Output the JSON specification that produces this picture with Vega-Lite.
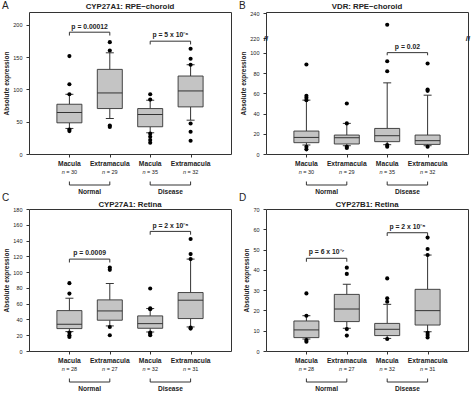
{
"$schema": "https://vega.github.io/schema/vega-lite/v6.json",
"padding": {"left": 1, "top": 0, "right": 2, "bottom": 0},
"columns": 2,
"spacing": {"row": 55, "column": 35},
"bounds": "flush",
"datasets": {
"groups": [{"from": "Normal Macula", "to": "Normal Extramacula", "label": "Normal"}, {"from": "Disease Macula", "to": "Disease Extramacula", "label": "Disease"}],
"boxA": [
{"cat": "Normal Macula", "sub": "Macula", "n": "= 30", "q1": 48.3, "med": 64.3, "q3": 77.1, "lo": 39.6, "hi": 92.5},
{"cat": "Normal Extramacula", "sub": "Extramacula", "n": "= 29", "q1": 70.4, "med": 94.6, "q3": 131.1, "lo": 55, "hi": 156.8},
{"cat": "Disease Macula", "sub": "Macula", "n": "= 35", "q1": 42.2, "med": 61.2, "q3": 70.4, "lo": 32.9, "hi": 83.3},
{"cat": "Disease Extramacula", "sub": "Extramacula", "n": "= 32", "q1": 73, "med": 97.7, "q3": 120.8, "lo": 52.4, "hi": 138.3}],
"outA": [
{"cat": "Normal Macula", "v": 151.7}, {"cat": "Normal Macula", "v": 108}, {"cat": "Normal Macula", "v": 92.5}, {"cat": "Normal Macula", "v": 38}, {"cat": "Normal Macula", "v": 35.5},
{"cat": "Normal Extramacula", "v": 173.3}, {"cat": "Normal Extramacula", "v": 160.4}, {"cat": "Normal Extramacula", "v": 44}, {"cat": "Normal Extramacula", "v": 42},
{"cat": "Disease Macula", "v": 92.5}, {"cat": "Disease Macula", "v": 84.3}, {"cat": "Disease Macula", "v": 31.5}, {"cat": "Disease Macula", "v": 26.7}, {"cat": "Disease Macula", "v": 21.6}, {"cat": "Disease Macula", "v": 17.5},
{"cat": "Disease Extramacula", "v": 163}, {"cat": "Disease Extramacula", "v": 147.6}, {"cat": "Disease Extramacula", "v": 138.3}, {"cat": "Disease Extramacula", "v": 47.3}, {"cat": "Disease Extramacula", "v": 34.4}, {"cat": "Disease Extramacula", "v": 20.6}],
"brA": [
{"from": "Normal Macula", "to": "Normal Extramacula", "y": 188.7, "y2": 183.5, "ty": 197.4, "label": "p = 0.00012"},
{"from": "Disease Macula", "to": "Disease Extramacula", "y": 174.8, "y2": 169.7, "ty": 184.6, "label": "p = 5 x 10⁻⁶"}],
"boxB": [
{"cat": "Normal Macula", "sub": "Macula", "n": "= 30", "q1": 11.2, "med": 16.4, "q3": 22.7, "lo": 8.9, "hi": 53.3},
{"cat": "Normal Extramacula", "sub": "Extramacula", "n": "= 29", "q1": 9.9, "med": 16.1, "q3": 18.75, "lo": 8.2, "hi": 30.3},
{"cat": "Disease Macula", "sub": "Macula", "n": "= 35", "q1": 12.2, "med": 18.1, "q3": 25.3, "lo": 9.2, "hi": 70.4},
{"cat": "Disease Extramacula", "sub": "Extramacula", "n": "= 32", "q1": 9.5, "med": 13.2, "q3": 18.75, "lo": 8.2, "hi": 58.2}],
"outB": [
{"cat": "Normal Macula", "v": 88.5}, {"cat": "Normal Macula", "v": 57.6}, {"cat": "Normal Macula", "v": 55.6}, {"cat": "Normal Macula", "v": 53.3}, {"cat": "Normal Macula", "v": 7.2}, {"cat": "Normal Macula", "v": 4.6},
{"cat": "Normal Extramacula", "v": 50}, {"cat": "Normal Extramacula", "v": 30.3}, {"cat": "Normal Extramacula", "v": 7.2}, {"cat": "Normal Extramacula", "v": 5.9},
{"cat": "Disease Macula", "v": 230.7}, {"cat": "Disease Macula", "v": 91.8}, {"cat": "Disease Macula", "v": 81.9}, {"cat": "Disease Macula", "v": 8.9}, {"cat": "Disease Macula", "v": 7.2},
{"cat": "Disease Extramacula", "v": 89.5}, {"cat": "Disease Extramacula", "v": 63.8}, {"cat": "Disease Extramacula", "v": 62.5}, {"cat": "Disease Extramacula", "v": 7.2}],
"brB": [
{"from": "Disease Macula", "to": "Disease Extramacula", "y": 100.3, "y2": 97.7, "ty": 105.9, "label": "p = 0.02"}],
"boxC": [
{"cat": "Normal Macula", "sub": "Macula", "n": "= 28", "q1": 28.4, "med": 33.9, "q3": 51.2, "lo": 24.6, "hi": 66.9},
{"cat": "Normal Extramacula", "sub": "Extramacula", "n": "= 27", "q1": 39, "med": 50.8, "q3": 64.8, "lo": 31.8, "hi": 85.6},
{"cat": "Disease Macula", "sub": "Macula", "n": "= 32", "q1": 28.8, "med": 34.7, "q3": 44.5, "lo": 24.1, "hi": 53.8},
{"cat": "Disease Extramacula", "sub": "Extramacula", "n": "= 31", "q1": 41.1, "med": 64.4, "q3": 74.1, "lo": 30.5, "hi": 116.5}],
"outC": [
{"cat": "Normal Macula", "v": 86}, {"cat": "Normal Macula", "v": 72.8}, {"cat": "Normal Macula", "v": 23.3}, {"cat": "Normal Macula", "v": 19.9}, {"cat": "Normal Macula", "v": 17.8},
{"cat": "Normal Extramacula", "v": 105.9}, {"cat": "Normal Extramacula", "v": 102.9}, {"cat": "Normal Extramacula", "v": 30.5}, {"cat": "Normal Extramacula", "v": 19.9},
{"cat": "Disease Macula", "v": 79.2}, {"cat": "Disease Macula", "v": 54.2}, {"cat": "Disease Macula", "v": 53}, {"cat": "Disease Macula", "v": 23.3}, {"cat": "Disease Macula", "v": 22}, {"cat": "Disease Macula", "v": 19.9},
{"cat": "Disease Extramacula", "v": 141.9}, {"cat": "Disease Extramacula", "v": 122.8}, {"cat": "Disease Extramacula", "v": 116.5}, {"cat": "Disease Extramacula", "v": 29.6}, {"cat": "Disease Extramacula", "v": 28.4}],
"brC": [
{"from": "Normal Macula", "to": "Normal Extramacula", "y": 116.5, "y2": 112.2, "ty": 124.1, "label": "p = 0.0009"},
{"from": "Disease Macula", "to": "Disease Extramacula", "y": 151.6, "y2": 147.4, "ty": 158.8, "label": "p = 2 x 10⁻⁵"}],
"boxD": [
{"cat": "Normal Macula", "sub": "Macula", "n": "= 28", "q1": 6.6, "med": 10.4, "q3": 14.8, "lo": 5.9, "hi": 17.4},
{"cat": "Normal Extramacula", "sub": "Extramacula", "n": "= 27", "q1": 14.5, "med": 20.7, "q3": 27.9, "lo": 11.2, "hi": 32.9},
{"cat": "Disease Macula", "sub": "Macula", "n": "= 32", "q1": 7.6, "med": 10.7, "q3": 13.6, "lo": 6.2, "hi": 23},
{"cat": "Disease Extramacula", "sub": "Extramacula", "n": "= 31", "q1": 12.8, "med": 19.9, "q3": 30.4, "lo": 9.5, "hi": 47.3}],
"outD": [
{"cat": "Normal Macula", "v": 28.4}, {"cat": "Normal Macula", "v": 17.4}, {"cat": "Normal Macula", "v": 5.4}, {"cat": "Normal Macula", "v": 4.6},
{"cat": "Normal Extramacula", "v": 41.1}, {"cat": "Normal Extramacula", "v": 38}, {"cat": "Normal Extramacula", "v": 10.8}, {"cat": "Normal Extramacula", "v": 7.6},
{"cat": "Disease Macula", "v": 35.8}, {"cat": "Disease Macula", "v": 26}, {"cat": "Disease Macula", "v": 24.3}, {"cat": "Disease Macula", "v": 5.9},
{"cat": "Disease Extramacula", "v": 55.9}, {"cat": "Disease Extramacula", "v": 50.3}, {"cat": "Disease Extramacula", "v": 47.3}, {"cat": "Disease Extramacula", "v": 9}, {"cat": "Disease Extramacula", "v": 7.9}, {"cat": "Disease Extramacula", "v": 6.7}],
"brD": [
{"from": "Normal Macula", "to": "Normal Extramacula", "y": 45.7, "y2": 44, "ty": 48.6, "label": "p = 6 x 10⁻⁷"},
{"from": "Disease Macula", "to": "Disease Extramacula", "y": 58.3, "y2": 56.7, "ty": 61.3, "label": "p = 2 x 10⁻⁵"}]
},
"concat": [
{
"width": 202, "height": 142,
"layer": [
{"data": {"name": "boxA"}, "mark": {"type": "rule", "color": "#333", "strokeWidth": 1},
 "encoding": {"x": {"field": "cat", "type": "nominal", "title": null, "scale": {"type": "point", "domain": ["Normal Macula", "Normal Extramacula", "Disease Macula", "Disease Extramacula"], "padding": 1}},
  "y": {"field": "q3", "type": "quantitative", "title": "Absolute expression", "scale": {"domain": [0, 220], "nice": false, "zero": false}, "axis": {"values": [0, 50, 100, 150, 200], "tickCount": 30, "labelOverlap": false}},
  "y2": {"field": "hi"}}},
{"data": {"name": "boxA"}, "mark": {"type": "rule", "color": "#333", "strokeWidth": 1},
 "encoding": {"x": {"field": "cat", "type": "nominal", "title": null}, "y": {"field": "lo", "type": "quantitative", "title": "Absolute expression"}, "y2": {"field": "q1"}}},
{"data": {"name": "boxA"}, "mark": {"type": "bar", "size": 25, "fill": "#c4c4c4", "stroke": "#333", "strokeWidth": 0.9},
 "encoding": {"x": {"field": "cat", "type": "nominal", "title": null}, "y": {"field": "q1", "type": "quantitative", "title": "Absolute expression"}, "y2": {"field": "q3"}}},
{"data": {"name": "boxA"}, "mark": {"type": "tick", "orient": "horizontal", "size": 25, "thickness": 1, "color": "#333", "opacity": 1},
 "encoding": {"x": {"field": "cat", "type": "nominal", "title": null}, "y": {"field": "med", "type": "quantitative", "title": "Absolute expression"}}},
{"data": {"name": "boxA"}, "mark": {"type": "tick", "orient": "horizontal", "size": 8, "thickness": 1, "color": "#333", "opacity": 1},
 "encoding": {"x": {"field": "cat", "type": "nominal", "title": null}, "y": {"field": "hi", "type": "quantitative", "title": "Absolute expression"}}},
{"data": {"name": "boxA"}, "mark": {"type": "tick", "orient": "horizontal", "size": 8, "thickness": 1, "color": "#333", "opacity": 1},
 "encoding": {"x": {"field": "cat", "type": "nominal", "title": null}, "y": {"field": "lo", "type": "quantitative", "title": "Absolute expression"}}},
{"data": {"name": "outA"}, "mark": {"type": "circle", "size": 17, "color": "#000", "opacity": 1},
 "encoding": {"x": {"field": "cat", "type": "nominal", "title": null}, "y": {"field": "v", "type": "quantitative", "title": "Absolute expression"}}},
{"data": {"name": "brA"}, "mark": {"type": "rule", "color": "#333"},
 "encoding": {"x": {"field": "from", "type": "nominal", "title": null}, "x2": {"field": "to"}, "y": {"field": "y", "type": "quantitative", "title": "Absolute expression"}}},
{"data": {"name": "brA"}, "transform": [{"fold": ["from", "to"], "as": ["end", "c"]}], "mark": {"type": "rule", "color": "#333"},
 "encoding": {"x": {"field": "c", "type": "nominal", "title": null}, "y": {"field": "y", "type": "quantitative", "title": "Absolute expression"}, "y2": {"field": "y2"}}},
{"data": {"name": "brA"}, "mark": {"type": "text", "dx": 20.2, "fontSize": 6.8, "fontWeight": "bold", "baseline": "middle"},
 "encoding": {"x": {"field": "from", "type": "nominal", "title": null}, "y": {"field": "ty", "type": "quantitative", "title": "Absolute expression"}, "text": {"field": "label"}}},
{"data": {"name": "boxA"}, "mark": {"type": "text", "dy": 10, "fontSize": 6.7, "fontWeight": "bold", "baseline": "middle"},
 "encoding": {"x": {"field": "cat", "type": "nominal", "title": null}, "y": {"datum": 0}, "text": {"field": "sub"}}},
{"data": {"name": "boxA"}, "mark": {"type": "text", "text": "n", "dy": 18, "dx": -7.7, "align": "left", "fontSize": 5.5, "fontStyle": "italic", "baseline": "middle"},
 "encoding": {"x": {"field": "cat", "type": "nominal", "title": null}, "y": {"datum": 0}}},
{"data": {"name": "boxA"}, "mark": {"type": "text", "dy": 18, "dx": -3.1, "align": "left", "fontSize": 5.5, "baseline": "middle"},
 "encoding": {"x": {"field": "cat", "type": "nominal", "title": null}, "y": {"datum": 0}, "text": {"field": "n"}}},
{"data": {"name": "groups"}, "mark": {"type": "rule", "color": "#333", "yOffset": 31},
 "encoding": {"x": {"field": "from", "type": "nominal", "title": null}, "x2": {"field": "to"}, "y": {"datum": 0}}},
{"data": {"name": "groups"}, "transform": [{"fold": ["from", "to"], "as": ["end", "c"]}], "mark": {"type": "rule", "color": "#333", "yOffset": 27.5, "y2Offset": 31},
 "encoding": {"x": {"field": "c", "type": "nominal", "title": null}, "y": {"datum": 0}, "y2": {"datum": 0}}},
{"data": {"name": "groups"}, "mark": {"type": "text", "dx": 20.2, "dy": 37.5, "fontSize": 6.6, "fontWeight": "bold", "baseline": "middle"},
 "encoding": {"x": {"field": "from", "type": "nominal", "title": null}, "y": {"datum": 0}, "text": {"field": "label"}}},
{"data": {"values": [{}]}, "mark": {"type": "text", "text": "CYP27A1: RPE−choroid", "fontSize": 7.8, "fontWeight": "bold", "align": "center", "baseline": "alphabetic", "dx": 20.2, "dy": -3},
 "encoding": {"x": {"datum": "Normal Extramacula"}, "y": {"datum": 220}}},
{"data": {"values": [{}]}, "mark": {"type": "text", "text": "A", "fontSize": 10, "align": "left", "baseline": "alphabetic", "dx": -67.4, "dy": -3.4},
 "encoding": {"x": {"datum": "Normal Macula"}, "y": {"datum": 220}}}
]
},
{
"width": 202, "height": 142,
"layer": [
{"data": {"name": "boxB"}, "mark": {"type": "rule", "color": "#333", "strokeWidth": 1},
 "encoding": {"x": {"field": "cat", "type": "nominal", "title": null, "scale": {"type": "point", "domain": ["Normal Macula", "Normal Extramacula", "Disease Macula", "Disease Extramacula"], "padding": 1}},
  "y": {"field": "q3", "type": "quantitative", "title": "Absolute expression", "scale": {"domain": [0, 112, 220, 241], "range": [142, 28.8, 26, 0], "nice": false, "zero": false}, "axis": {"values": [0, 20, 40, 60, 80, 100, 220, 240], "tickCount": 30, "labelOverlap": false}},
  "y2": {"field": "hi"}}},
{"data": {"name": "boxB"}, "mark": {"type": "rule", "color": "#333", "strokeWidth": 1},
 "encoding": {"x": {"field": "cat", "type": "nominal", "title": null}, "y": {"field": "lo", "type": "quantitative", "title": "Absolute expression"}, "y2": {"field": "q1"}}},
{"data": {"name": "boxB"}, "mark": {"type": "bar", "size": 25, "fill": "#c4c4c4", "stroke": "#333", "strokeWidth": 0.9},
 "encoding": {"x": {"field": "cat", "type": "nominal", "title": null}, "y": {"field": "q1", "type": "quantitative", "title": "Absolute expression"}, "y2": {"field": "q3"}}},
{"data": {"name": "boxB"}, "mark": {"type": "tick", "orient": "horizontal", "size": 25, "thickness": 1, "color": "#333", "opacity": 1},
 "encoding": {"x": {"field": "cat", "type": "nominal", "title": null}, "y": {"field": "med", "type": "quantitative", "title": "Absolute expression"}}},
{"data": {"name": "boxB"}, "mark": {"type": "tick", "orient": "horizontal", "size": 8, "thickness": 1, "color": "#333", "opacity": 1},
 "encoding": {"x": {"field": "cat", "type": "nominal", "title": null}, "y": {"field": "hi", "type": "quantitative", "title": "Absolute expression"}}},
{"data": {"name": "boxB"}, "mark": {"type": "tick", "orient": "horizontal", "size": 8, "thickness": 1, "color": "#333", "opacity": 1},
 "encoding": {"x": {"field": "cat", "type": "nominal", "title": null}, "y": {"field": "lo", "type": "quantitative", "title": "Absolute expression"}}},
{"data": {"name": "outB"}, "mark": {"type": "circle", "size": 17, "color": "#000", "opacity": 1},
 "encoding": {"x": {"field": "cat", "type": "nominal", "title": null}, "y": {"field": "v", "type": "quantitative", "title": "Absolute expression"}}},
{"data": {"name": "brB"}, "mark": {"type": "rule", "color": "#333"},
 "encoding": {"x": {"field": "from", "type": "nominal", "title": null}, "x2": {"field": "to"}, "y": {"field": "y", "type": "quantitative", "title": "Absolute expression"}}},
{"data": {"name": "brB"}, "transform": [{"fold": ["from", "to"], "as": ["end", "c"]}], "mark": {"type": "rule", "color": "#333"},
 "encoding": {"x": {"field": "c", "type": "nominal", "title": null}, "y": {"field": "y", "type": "quantitative", "title": "Absolute expression"}, "y2": {"field": "y2"}}},
{"data": {"name": "brB"}, "mark": {"type": "text", "dx": 20.2, "fontSize": 6.8, "fontWeight": "bold", "baseline": "middle"},
 "encoding": {"x": {"field": "from", "type": "nominal", "title": null}, "y": {"field": "ty", "type": "quantitative", "title": "Absolute expression"}, "text": {"field": "label"}}},
{"data": {"name": "boxB"}, "mark": {"type": "text", "dy": 10, "fontSize": 6.7, "fontWeight": "bold", "baseline": "middle"},
 "encoding": {"x": {"field": "cat", "type": "nominal", "title": null}, "y": {"datum": 0}, "text": {"field": "sub"}}},
{"data": {"name": "boxB"}, "mark": {"type": "text", "text": "n", "dy": 18, "dx": -7.7, "align": "left", "fontSize": 5.5, "fontStyle": "italic", "baseline": "middle"},
 "encoding": {"x": {"field": "cat", "type": "nominal", "title": null}, "y": {"datum": 0}}},
{"data": {"name": "boxB"}, "mark": {"type": "text", "dy": 18, "dx": -3.1, "align": "left", "fontSize": 5.5, "baseline": "middle"},
 "encoding": {"x": {"field": "cat", "type": "nominal", "title": null}, "y": {"datum": 0}, "text": {"field": "n"}}},
{"data": {"name": "groups"}, "mark": {"type": "rule", "color": "#333", "yOffset": 31},
 "encoding": {"x": {"field": "from", "type": "nominal", "title": null}, "x2": {"field": "to"}, "y": {"datum": 0}}},
{"data": {"name": "groups"}, "transform": [{"fold": ["from", "to"], "as": ["end", "c"]}], "mark": {"type": "rule", "color": "#333", "yOffset": 27.5, "y2Offset": 31},
 "encoding": {"x": {"field": "c", "type": "nominal", "title": null}, "y": {"datum": 0}, "y2": {"datum": 0}}},
{"data": {"name": "groups"}, "mark": {"type": "text", "dx": 20.2, "dy": 37.5, "fontSize": 6.6, "fontWeight": "bold", "baseline": "middle"},
 "encoding": {"x": {"field": "from", "type": "nominal", "title": null}, "y": {"datum": 0}, "text": {"field": "label"}}},
{"data": {"values": [{}]}, "mark": {"type": "text", "text": "//", "fontSize": 8, "fontWeight": "bold", "align": "center", "baseline": "middle", "dx": -40.4},
 "encoding": {"x": {"datum": "Normal Macula"}, "y": {"datum": 166}}},
{"data": {"values": [{}]}, "mark": {"type": "text", "text": "//", "fontSize": 8, "fontWeight": "bold", "align": "center", "baseline": "middle", "dx": 40.4},
 "encoding": {"x": {"datum": "Disease Extramacula"}, "y": {"datum": 166}}},
{"data": {"values": [{}]}, "mark": {"type": "text", "text": "VDR: RPE−choroid", "fontSize": 7.8, "fontWeight": "bold", "align": "center", "baseline": "alphabetic", "dx": 20.2, "dy": -3},
 "encoding": {"x": {"datum": "Normal Extramacula"}, "y": {"datum": 241}}},
{"data": {"values": [{}]}, "mark": {"type": "text", "text": "B", "fontSize": 10, "align": "left", "baseline": "alphabetic", "dx": -67.4, "dy": -3.4},
 "encoding": {"x": {"datum": "Normal Macula"}, "y": {"datum": 241}}}
]
},
{
"width": 202, "height": 142,
"layer": [
{"data": {"name": "boxC"}, "mark": {"type": "rule", "color": "#333", "strokeWidth": 1},
 "encoding": {"x": {"field": "cat", "type": "nominal", "title": null, "scale": {"type": "point", "domain": ["Normal Macula", "Normal Extramacula", "Disease Macula", "Disease Extramacula"], "padding": 1}},
  "y": {"field": "q3", "type": "quantitative", "title": "Absolute expression", "scale": {"domain": [0, 180], "nice": false, "zero": false}, "axis": {"values": [0, 20, 40, 60, 80, 100, 120, 140, 160, 180], "tickCount": 30, "labelOverlap": false}},
  "y2": {"field": "hi"}}},
{"data": {"name": "boxC"}, "mark": {"type": "rule", "color": "#333", "strokeWidth": 1},
 "encoding": {"x": {"field": "cat", "type": "nominal", "title": null}, "y": {"field": "lo", "type": "quantitative", "title": "Absolute expression"}, "y2": {"field": "q1"}}},
{"data": {"name": "boxC"}, "mark": {"type": "bar", "size": 25, "fill": "#c4c4c4", "stroke": "#333", "strokeWidth": 0.9},
 "encoding": {"x": {"field": "cat", "type": "nominal", "title": null}, "y": {"field": "q1", "type": "quantitative", "title": "Absolute expression"}, "y2": {"field": "q3"}}},
{"data": {"name": "boxC"}, "mark": {"type": "tick", "orient": "horizontal", "size": 25, "thickness": 1, "color": "#333", "opacity": 1},
 "encoding": {"x": {"field": "cat", "type": "nominal", "title": null}, "y": {"field": "med", "type": "quantitative", "title": "Absolute expression"}}},
{"data": {"name": "boxC"}, "mark": {"type": "tick", "orient": "horizontal", "size": 8, "thickness": 1, "color": "#333", "opacity": 1},
 "encoding": {"x": {"field": "cat", "type": "nominal", "title": null}, "y": {"field": "hi", "type": "quantitative", "title": "Absolute expression"}}},
{"data": {"name": "boxC"}, "mark": {"type": "tick", "orient": "horizontal", "size": 8, "thickness": 1, "color": "#333", "opacity": 1},
 "encoding": {"x": {"field": "cat", "type": "nominal", "title": null}, "y": {"field": "lo", "type": "quantitative", "title": "Absolute expression"}}},
{"data": {"name": "outC"}, "mark": {"type": "circle", "size": 17, "color": "#000", "opacity": 1},
 "encoding": {"x": {"field": "cat", "type": "nominal", "title": null}, "y": {"field": "v", "type": "quantitative", "title": "Absolute expression"}}},
{"data": {"name": "brC"}, "mark": {"type": "rule", "color": "#333"},
 "encoding": {"x": {"field": "from", "type": "nominal", "title": null}, "x2": {"field": "to"}, "y": {"field": "y", "type": "quantitative", "title": "Absolute expression"}}},
{"data": {"name": "brC"}, "transform": [{"fold": ["from", "to"], "as": ["end", "c"]}], "mark": {"type": "rule", "color": "#333"},
 "encoding": {"x": {"field": "c", "type": "nominal", "title": null}, "y": {"field": "y", "type": "quantitative", "title": "Absolute expression"}, "y2": {"field": "y2"}}},
{"data": {"name": "brC"}, "mark": {"type": "text", "dx": 20.2, "fontSize": 6.8, "fontWeight": "bold", "baseline": "middle"},
 "encoding": {"x": {"field": "from", "type": "nominal", "title": null}, "y": {"field": "ty", "type": "quantitative", "title": "Absolute expression"}, "text": {"field": "label"}}},
{"data": {"name": "boxC"}, "mark": {"type": "text", "dy": 10, "fontSize": 6.7, "fontWeight": "bold", "baseline": "middle"},
 "encoding": {"x": {"field": "cat", "type": "nominal", "title": null}, "y": {"datum": 0}, "text": {"field": "sub"}}},
{"data": {"name": "boxC"}, "mark": {"type": "text", "text": "n", "dy": 18, "dx": -7.7, "align": "left", "fontSize": 5.5, "fontStyle": "italic", "baseline": "middle"},
 "encoding": {"x": {"field": "cat", "type": "nominal", "title": null}, "y": {"datum": 0}}},
{"data": {"name": "boxC"}, "mark": {"type": "text", "dy": 18, "dx": -3.1, "align": "left", "fontSize": 5.5, "baseline": "middle"},
 "encoding": {"x": {"field": "cat", "type": "nominal", "title": null}, "y": {"datum": 0}, "text": {"field": "n"}}},
{"data": {"name": "groups"}, "mark": {"type": "rule", "color": "#333", "yOffset": 31},
 "encoding": {"x": {"field": "from", "type": "nominal", "title": null}, "x2": {"field": "to"}, "y": {"datum": 0}}},
{"data": {"name": "groups"}, "transform": [{"fold": ["from", "to"], "as": ["end", "c"]}], "mark": {"type": "rule", "color": "#333", "yOffset": 27.5, "y2Offset": 31},
 "encoding": {"x": {"field": "c", "type": "nominal", "title": null}, "y": {"datum": 0}, "y2": {"datum": 0}}},
{"data": {"name": "groups"}, "mark": {"type": "text", "dx": 20.2, "dy": 37.5, "fontSize": 6.6, "fontWeight": "bold", "baseline": "middle"},
 "encoding": {"x": {"field": "from", "type": "nominal", "title": null}, "y": {"datum": 0}, "text": {"field": "label"}}},
{"data": {"values": [{}]}, "mark": {"type": "text", "text": "CYP27A1: Retina", "fontSize": 7.8, "fontWeight": "bold", "align": "center", "baseline": "alphabetic", "dx": 20.2, "dy": -2.5},
 "encoding": {"x": {"datum": "Normal Extramacula"}, "y": {"datum": 180}}},
{"data": {"values": [{}]}, "mark": {"type": "text", "text": "C", "fontSize": 10, "align": "left", "baseline": "alphabetic", "dx": -67.4, "dy": -8.5},
 "encoding": {"x": {"datum": "Normal Macula"}, "y": {"datum": 180}}}
]
},
{
"width": 202, "height": 142,
"layer": [
{"data": {"name": "boxD"}, "mark": {"type": "rule", "color": "#333", "strokeWidth": 1},
 "encoding": {"x": {"field": "cat", "type": "nominal", "title": null, "scale": {"type": "point", "domain": ["Normal Macula", "Normal Extramacula", "Disease Macula", "Disease Extramacula"], "padding": 1}},
  "y": {"field": "q3", "type": "quantitative", "title": "Absolute expression", "scale": {"domain": [0, 70], "nice": false, "zero": false}, "axis": {"values": [0, 10, 20, 30, 40, 50, 60, 70], "tickCount": 30, "labelOverlap": false}},
  "y2": {"field": "hi"}}},
{"data": {"name": "boxD"}, "mark": {"type": "rule", "color": "#333", "strokeWidth": 1},
 "encoding": {"x": {"field": "cat", "type": "nominal", "title": null}, "y": {"field": "lo", "type": "quantitative", "title": "Absolute expression"}, "y2": {"field": "q1"}}},
{"data": {"name": "boxD"}, "mark": {"type": "bar", "size": 25, "fill": "#c4c4c4", "stroke": "#333", "strokeWidth": 0.9},
 "encoding": {"x": {"field": "cat", "type": "nominal", "title": null}, "y": {"field": "q1", "type": "quantitative", "title": "Absolute expression"}, "y2": {"field": "q3"}}},
{"data": {"name": "boxD"}, "mark": {"type": "tick", "orient": "horizontal", "size": 25, "thickness": 1, "color": "#333", "opacity": 1},
 "encoding": {"x": {"field": "cat", "type": "nominal", "title": null}, "y": {"field": "med", "type": "quantitative", "title": "Absolute expression"}}},
{"data": {"name": "boxD"}, "mark": {"type": "tick", "orient": "horizontal", "size": 8, "thickness": 1, "color": "#333", "opacity": 1},
 "encoding": {"x": {"field": "cat", "type": "nominal", "title": null}, "y": {"field": "hi", "type": "quantitative", "title": "Absolute expression"}}},
{"data": {"name": "boxD"}, "mark": {"type": "tick", "orient": "horizontal", "size": 8, "thickness": 1, "color": "#333", "opacity": 1},
 "encoding": {"x": {"field": "cat", "type": "nominal", "title": null}, "y": {"field": "lo", "type": "quantitative", "title": "Absolute expression"}}},
{"data": {"name": "outD"}, "mark": {"type": "circle", "size": 17, "color": "#000", "opacity": 1},
 "encoding": {"x": {"field": "cat", "type": "nominal", "title": null}, "y": {"field": "v", "type": "quantitative", "title": "Absolute expression"}}},
{"data": {"name": "brD"}, "mark": {"type": "rule", "color": "#333"},
 "encoding": {"x": {"field": "from", "type": "nominal", "title": null}, "x2": {"field": "to"}, "y": {"field": "y", "type": "quantitative", "title": "Absolute expression"}}},
{"data": {"name": "brD"}, "transform": [{"fold": ["from", "to"], "as": ["end", "c"]}], "mark": {"type": "rule", "color": "#333"},
 "encoding": {"x": {"field": "c", "type": "nominal", "title": null}, "y": {"field": "y", "type": "quantitative", "title": "Absolute expression"}, "y2": {"field": "y2"}}},
{"data": {"name": "brD"}, "mark": {"type": "text", "dx": 20.2, "fontSize": 6.8, "fontWeight": "bold", "baseline": "middle"},
 "encoding": {"x": {"field": "from", "type": "nominal", "title": null}, "y": {"field": "ty", "type": "quantitative", "title": "Absolute expression"}, "text": {"field": "label"}}},
{"data": {"name": "boxD"}, "mark": {"type": "text", "dy": 10, "fontSize": 6.7, "fontWeight": "bold", "baseline": "middle"},
 "encoding": {"x": {"field": "cat", "type": "nominal", "title": null}, "y": {"datum": 0}, "text": {"field": "sub"}}},
{"data": {"name": "boxD"}, "mark": {"type": "text", "text": "n", "dy": 18, "dx": -7.7, "align": "left", "fontSize": 5.5, "fontStyle": "italic", "baseline": "middle"},
 "encoding": {"x": {"field": "cat", "type": "nominal", "title": null}, "y": {"datum": 0}}},
{"data": {"name": "boxD"}, "mark": {"type": "text", "dy": 18, "dx": -3.1, "align": "left", "fontSize": 5.5, "baseline": "middle"},
 "encoding": {"x": {"field": "cat", "type": "nominal", "title": null}, "y": {"datum": 0}, "text": {"field": "n"}}},
{"data": {"name": "groups"}, "mark": {"type": "rule", "color": "#333", "yOffset": 31},
 "encoding": {"x": {"field": "from", "type": "nominal", "title": null}, "x2": {"field": "to"}, "y": {"datum": 0}}},
{"data": {"name": "groups"}, "transform": [{"fold": ["from", "to"], "as": ["end", "c"]}], "mark": {"type": "rule", "color": "#333", "yOffset": 27.5, "y2Offset": 31},
 "encoding": {"x": {"field": "c", "type": "nominal", "title": null}, "y": {"datum": 0}, "y2": {"datum": 0}}},
{"data": {"name": "groups"}, "mark": {"type": "text", "dx": 20.2, "dy": 37.5, "fontSize": 6.6, "fontWeight": "bold", "baseline": "middle"},
 "encoding": {"x": {"field": "from", "type": "nominal", "title": null}, "y": {"datum": 0}, "text": {"field": "label"}}},
{"data": {"values": [{}]}, "mark": {"type": "text", "text": "CYP27B1: Retina", "fontSize": 7.8, "fontWeight": "bold", "align": "center", "baseline": "alphabetic", "dx": 20.2, "dy": -2.5},
 "encoding": {"x": {"datum": "Normal Extramacula"}, "y": {"datum": 70}}},
{"data": {"values": [{}]}, "mark": {"type": "text", "text": "D", "fontSize": 10, "align": "left", "baseline": "alphabetic", "dx": -67.4, "dy": -8.5},
 "encoding": {"x": {"datum": "Normal Macula"}, "y": {"datum": 70}}}
]
}
],
"config": {
 "font": "Liberation Sans",
 "background": "white",
 "view": {"stroke": "#333", "strokeWidth": 1},
 "axis": {"grid": false, "domain": false, "tickColor": "#333", "tickSize": 3, "labelColor": "#222", "titleColor": "#222", "labelFont": "Liberation Sans", "titleFont": "Liberation Sans", "labelOverlap": false},
 "axisY": {"labelFontSize": 5.5, "labelPadding": 4, "titleFontSize": 6.5, "titleFontWeight": "bold", "titlePadding": 3},
 "axisX": {"labels": false},
 "text": {"color": "#222", "font": "Liberation Sans"}
}
}
